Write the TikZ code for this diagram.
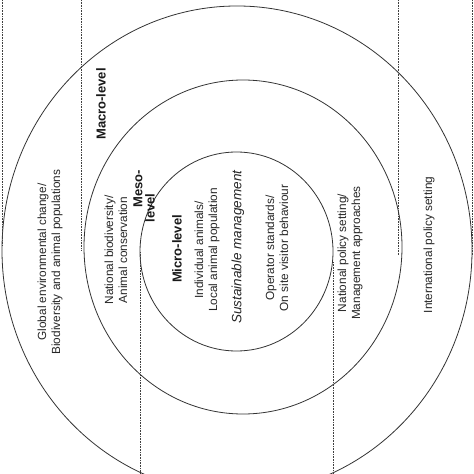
\documentclass[tikz,border=0pt]{standalone}
\usepackage{fontspec}
\setmainfont{Liberation Sans}
\begin{document}
\begin{tikzpicture}[x=1bp,y=-1bp,
  ring/.style={draw=black!80, line width=0.8bp},
  sep/.style={draw=black!75, line width=0.9bp, dash pattern=on 0.8bp off 0.8bp},
  body/.style={rotate=90, align=center, font=\fontsize{11.8bp}{14bp}\selectfont, text=black!85, inner sep=0pt},
  lvl/.style={rotate=90, align=center, font=\fontsize{13bp}{15bp}\selectfont\bfseries, text=black!90, inner sep=0pt},
  emph/.style={rotate=90, font=\fontsize{13.5bp}{16bp}\selectfont\itshape, text=black!85, inner sep=0pt}]
\useasboundingbox (0,0) rectangle (474,474);
\begin{scope}
\clip (0,0) rectangle (474,474);
% rings
\draw[ring] (237,250) ellipse [x radius=235bp, y radius=244bp];
\draw[ring] (243,247) ellipse [x radius=159bp, y radius=167bp];
\draw[ring] (236.5,251.5) ellipse [x radius=96.5bp, y radius=99.5bp];
% dotted separators
\coordinate (l0t) at (2,0);    \coordinate (l0b) at (2,246);
\coordinate (l1t) at (81,0);   \coordinate (l1b) at (81,250);
\coordinate (r1t) at (398,0);  \coordinate (r1b) at (398,255);
\coordinate (r0t) at (472,0);  \coordinate (r0b) at (472,256);
\coordinate (l2t) at (140,252); \coordinate (l2b) at (140,474);
\coordinate (r2t) at (333,262); \coordinate (r2b) at (333,474);
\draw[sep] (l0t) -- (l0b);
\draw[sep] (l1t) -- (l1b);
\draw[sep] (r1t) -- (r1b);
\draw[sep] (r0t) -- (r0b);
\draw[sep] (l2t) -- (l2b);
\draw[sep] (r2t) -- (r2b);
\end{scope}
% labels
\node[lvl] (macro) at (101,104) {Macro-level};
\node[lvl] (meso1) at (138,189) {Meso-};
\node[lvl] (meso2) at (150,208) {level};
\node[lvl] (micro) at (177,249) {Micro-level};
\node[body] (global) at (50,262) {Global environmental change/\\Biodiversity and animal populations};
\node[body] (natbio) at (116,250) {National biodiversity/\\Animal conservation};
\node[body] (indiv) at (207,250) {Individual animals/\\Local animal population};
\node[emph] (sust) at (238,247) {Sustainable management};
\node[body] (oper) at (277,248) {Operator standards/\\On site visitor behaviour};
\node[body] (natpol) at (350,253) {National policy setting/\\Management approaches};
\node[body] (intl) at (429,245) {International policy setting};
\end{tikzpicture}
\end{document}
